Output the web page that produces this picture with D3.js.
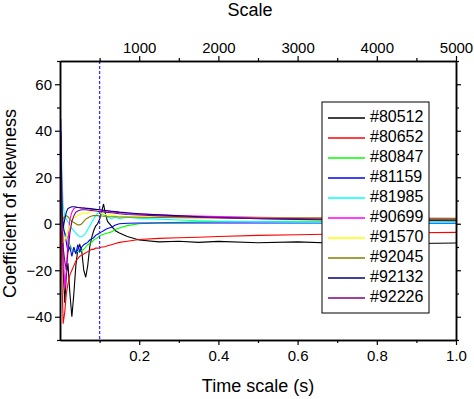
<!DOCTYPE html>
<html>
<head>
<meta charset="utf-8">
<script src="https://cdn.jsdelivr.net/npm/d3@7"></script>
<style>
  body { margin: 0; background: #fff; }
  text { font-family: "Liberation Sans", Arial, sans-serif; fill: #000; }
</style>
</head>
<body>
<div id="canva"></div>
<script>
const times = [0.002, 0.005, 0.008, 0.012, 0.016, 0.02, 0.025, 0.03, 0.035, 0.04,
  0.045, 0.05, 0.055, 0.06, 0.065, 0.07, 0.075, 0.08, 0.085, 0.09,
  0.095, 0.1, 0.105, 0.11, 0.115, 0.12, 0.13, 0.14, 0.15, 0.17,
  0.2, 0.25, 0.3, 0.35, 0.4, 0.5, 0.6, 0.7, 0.8, 0.9, 1.0];

const names = ["#80512", "#80652", "#80847", "#81159", "#81985",
  "#90699", "#91570", "#92045", "#92132", "#92226"];
const colors = ["#000000", "#ff0000", "#00ff00", "#0000ff", "#00ffff",
  "#ff00ff", "#ffff00", "#808000", "#000080", "#800080"];

const s80512 = [38, 10, -20, -34, -22, -17, -30, -40, -30, -18, -11, -9, -12, -20, -23, -18, -10, -6, -3, -1,
  0, 2, 5, 8.5, 4, 1, -1, -3, -4, -5.5, -7, -7.8, -7.5, -8, -7.6, -8.2, -7.8, -8.4, -8, -8.5, -8.3];
const s80652 = [20, -25, -43, -38, -30, -26, -22, -20, -18, -16, -15, -14, -13.5, -13, -12.5, -12, -11.5, -11, -11, -10.5,
  -10.5, -10.3, -10, -10, -9.8, -9.5, -9, -8.5, -8, -7.5, -6.8, -6.3, -6, -5.8, -5.5, -5, -4.7, -4.4, -4.1, -3.9, -3.7];
const s80847 = [30, 10, 0, -4, -5, -6, -9, -11, -12, -12, -12, -12, -11.5, -11, -10, -9, -8.5, -8, -7, -6.5,
  -6, -5.2, -4.8, -4.5, -4.2, -4, -3.5, -2.5, -1.8, -0.8, 0, 0.4, 0.6, 0.8, 0.9, 1, 1.1, 1.1, 1.2, 1.2, 1.2];
const s81159 = [35, 5, -2, -4, -8, -12, -10, -14, -10, -13, -9, -12, -10, -9, -8.5, -8, -7, -6.5, -6, -5,
  -4.5, -4, -3.5, -3, -2.5, -2, -1.5, -0.5, 0, 0.2, 0.3, 0.3, 0.3, 0.3, 0.3, 0.3, 0.3, 0.3, 0.3, 0.2, 0.2];
const s81985 = [45, 20, 8, 3, 2, 1, -1, -2, -3, -4, -5, -5.5, -5.6, -5, -4, -2.5, -1, 0.5, 2, 3.5,
  4.5, 4.7, 4.5, 3.8, 3.2, 2.8, 2.2, 2.8, 2.2, 2.8, 2.3, 2, 1.6, 1.3, 1.1, 0.9, 0.7, 0.6, 0.5, 0.45, 0.4];
const s90699 = [45, 10, -10, -28, -20, -8, 2, 5, 6.5, 7, 7, 7, 6.8, 6.8, 6.6, 6.5, 6.5, 6.3, 6.2, 6.1,
  6, 6, 5.8, 5.7, 5.6, 5.5, 5.2, 5, 4.8, 4.5, 4.2, 3.8, 3.5, 3.3, 3.1, 2.8, 2.6, 2.5, 2.4, 2.3, 2.2];
const s91570 = [30, 0, -8, -7, -5, -3, -1, 1, 2.5, 3, 3.5, 4, 4.5, 4.7, 4.5, 4.5, 5, 5.5, 6, 6,
  5.5, 5, 4.5, 4.2, 4, 3.8, 3.6, 3.4, 3.3, 3.1, 3, 2.8, 2.7, 2.6, 2.6, 2.5, 2.4, 2.3, 2.2, 2.1, 2.0];
const s92045 = [25, 5, 2, 3, 3.5, 3, 2, 1, 0.5, 0, -0.5, -0.5, 0, 1, 2, 2.5, 3, 3.3, 3.5, 3.5,
  3.5, 3.4, 3.3, 3.2, 3.2, 3.1, 3.0, 3.0, 2.9, 2.9, 2.8, 2.7, 2.6, 2.6, 2.5, 2.5, 2.4, 2.4, 2.3, 2.3, 2.3];
const s92132 = [40, 5, -2, 2, 5, 6.5, 7, 7.3, 7.3, 7.2, 7, 6.9, 6.8, 6.8, 6.7, 6.6, 6.5, 6.4, 6.3, 6.2,
  6.1, 6, 5.9, 5.8, 5.7, 5.6, 5.4, 5.2, 5, 4.7, 4.3, 3.8, 3.4, 3, 2.7, 2.2, 1.9, 1.6, 1.5, 1.4, 1.3];
const s92226 = [30, 0, -10, -16, -20, -12, -4, 1, 3.5, 5, 5.5, 5.8, 6, 6, 6, 5.9, 5.8, 5.7, 5.6, 5.5,
  5.4, 5.3, 5.2, 5.1, 5, 4.9, 4.7, 4.5, 4.3, 4, 3.8, 3.4, 3.1, 2.8, 2.6, 2.3, 2.1, 1.9, 1.8, 1.75, 1.7];

const seriesValues = [s80512, s80652, s80847, s81159, s81985, s90699, s91570, s92045, s92132, s92226];

const bottomTicks = [0.2, 0.4, 0.6, 0.8, 1.0];
const bottomMinor = [0.1, 0.3, 0.5, 0.7, 0.9];
const topTicks = [1000, 2000, 3000, 4000, 5000];
const topMinor = [500, 1500, 2500, 3500, 4500];
const leftTicks = [-40, -20, 0, 20, 40, 60];
const leftMinor = [-50, -30, -10, 10, 30, 50, 70];
const markerTime = 0.1;

const width = 474, height = 399;
const margin = { top: 61, right: 18, bottom: 59, left: 60 };
const iwidth = width - margin.left - margin.right;
const iheight = height - margin.top - margin.bottom;

const svg = d3.select("#canva").append("svg")
  .attr("width", width).attr("height", height);

const g = svg.append("g").attr("transform", `translate(${margin.left},${margin.top})`);

const x = d3.scaleLinear().domain([0, 1]).range([0, iwidth]);
const xTop = d3.scaleLinear().domain([0, 5000]).range([0, iwidth]);
const y = d3.scaleLinear().domain([-50, 70]).range([iheight, 0]);

g.append("clipPath").attr("id", "clip")
  .append("rect").attr("width", iwidth).attr("height", iheight);

const line = d3.line().x((d) => x(d[0])).y((d) => y(d[1]));

const plot = g.append("g").attr("clip-path", "url(#clip)");
seriesValues.forEach((vals, i) => {
  plot.append("path")
    .datum(times.map((t, k) => [t, vals[k]]))
    .attr("fill", "none")
    .attr("stroke", colors[i])
    .attr("stroke-width", 1.1)
    .attr("d", line);
});

// dashed marker line
g.append("line")
  .attr("x1", x(markerTime)).attr("x2", x(markerTime))
  .attr("y1", 0).attr("y2", iheight)
  .attr("stroke", "#3333ff").attr("stroke-width", 1.3)
  .attr("stroke-dasharray", "3,2");

// axes
const fmt = d3.format(".1f");
function styleAxis(sel) {
  sel.select(".domain").attr("stroke", "#000").attr("stroke-width", 1.5);
  sel.selectAll(".tick line").attr("stroke", "#000").attr("stroke-width", 1.2);
  sel.selectAll("text").style("font-size", "15px").style("font-family", "Liberation Sans, Arial, sans-serif");
}

g.append("g").attr("transform", `translate(0,${iheight})`)
  .call(d3.axisBottom(x).tickValues(bottomMinor).tickSize(3).tickFormat("").tickSizeOuter(0))
  .call(styleAxis);
g.append("g").attr("transform", `translate(0,${iheight})`)
  .call(d3.axisBottom(x).tickValues(bottomTicks).tickSize(5).tickPadding(5).tickFormat(fmt).tickSizeOuter(0))
  .call(styleAxis);

g.append("g")
  .call(d3.axisTop(xTop).tickValues(topMinor).tickSize(3).tickFormat("").tickSizeOuter(0))
  .call(styleAxis);
g.append("g")
  .call(d3.axisTop(xTop).tickValues(topTicks).tickSize(5).tickPadding(3).tickFormat(d3.format("d")).tickSizeOuter(0))
  .call(styleAxis);

g.append("g")
  .call(d3.axisLeft(y).tickValues(leftMinor).tickSize(3).tickFormat("").tickSizeOuter(0))
  .call(styleAxis);
g.append("g")
  .call(d3.axisLeft(y).tickValues(leftTicks).tickSize(5).tickPadding(3).tickFormat(d3.format("d")).tickSizeOuter(0))
  .call(styleAxis);

g.append("g").attr("transform", `translate(${iwidth},0)`)
  .call(d3.axisRight(y).tickValues(leftMinor).tickSize(3).tickFormat("").tickSizeOuter(0))
  .call(styleAxis);
g.append("g").attr("transform", `translate(${iwidth},0)`)
  .call(d3.axisRight(y).tickValues(leftTicks).tickSize(5).tickFormat("").tickSizeOuter(0))
  .call(styleAxis);

// axis titles
svg.append("text").attr("x", margin.left + iwidth / 2).attr("y", 387)
  .attr("text-anchor", "middle").attr("dominant-baseline", "middle")
  .style("font-size", "18px").text("Time scale (s)");
svg.append("text").attr("x", 250).attr("y", 11)
  .attr("text-anchor", "middle").attr("dominant-baseline", "middle")
  .style("font-size", "18px").text("Scale");
svg.append("text")
  .attr("transform", `translate(11,${margin.top + iheight / 2 + 3}) rotate(-90)`)
  .attr("text-anchor", "middle").attr("dominant-baseline", "middle")
  .style("font-size", "18px").text("Coefficient of skewness");

// legend
const legend = svg.append("g").attr("transform", "translate(322,102)");
legend.append("rect").attr("width", 107).attr("height", 211)
  .attr("fill", "#fff").attr("stroke", "#000").attr("stroke-width", 1);
names.forEach((n, i) => {
  const ly = 16 + i * 20;
  legend.append("line").attr("x1", 6).attr("x2", 43).attr("y1", ly).attr("y2", ly)
    .attr("stroke", colors[i]).attr("stroke-width", 1.3);
  legend.append("text").attr("x", 48).attr("y", ly).attr("dominant-baseline", "middle")
    .style("font-size", "16px").text(n);
});
</script>
</body>
</html>
